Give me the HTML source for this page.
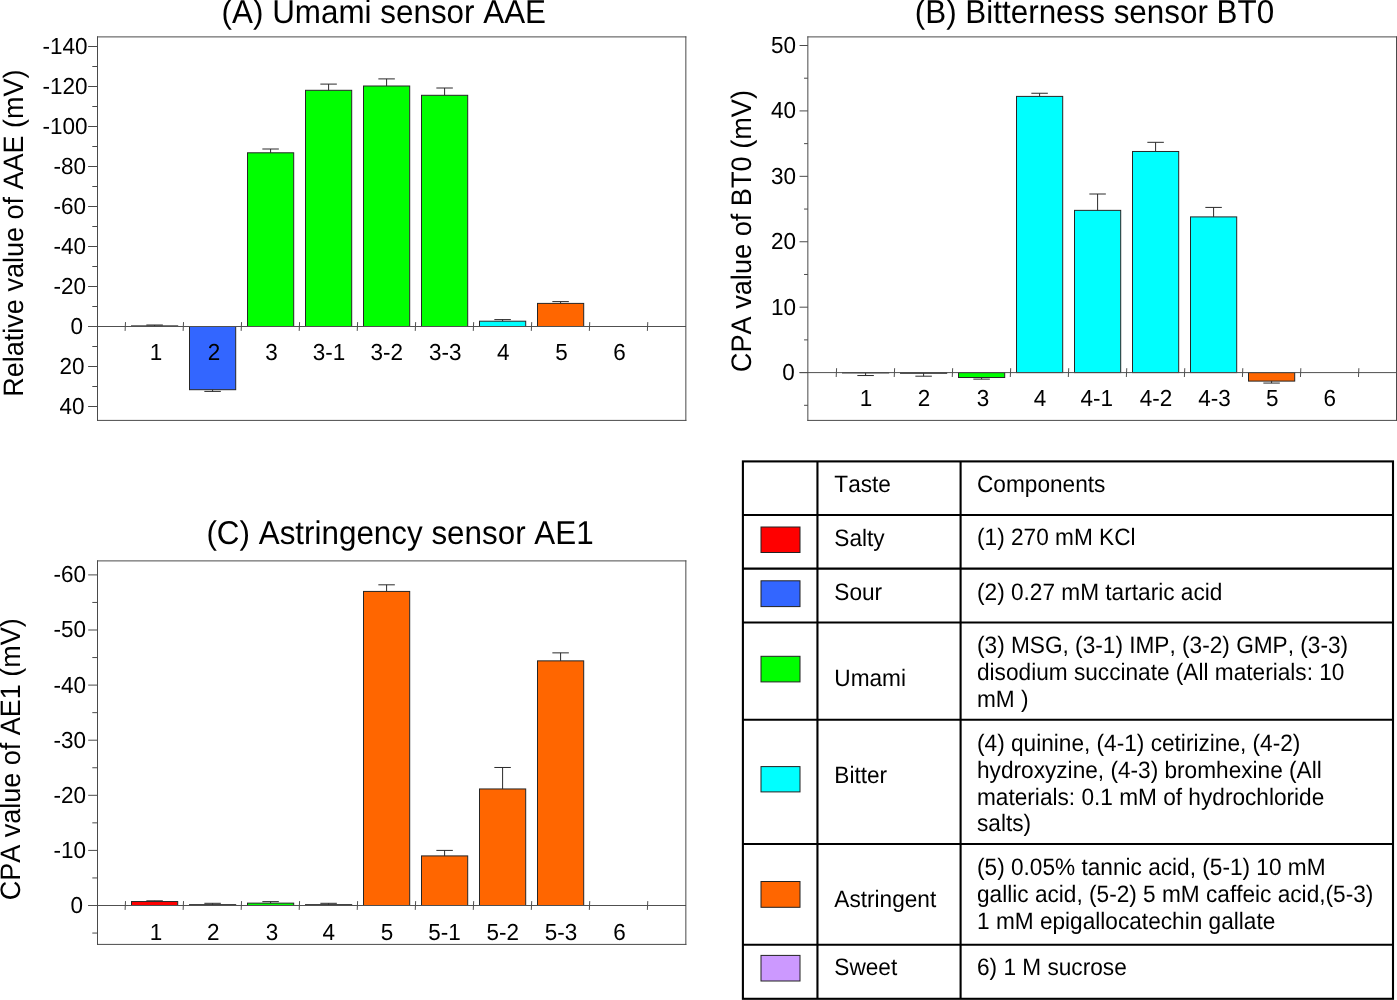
<!DOCTYPE html>
<html><head><meta charset="utf-8"><title>Taste sensor responses</title>
<style>
html,body{margin:0;padding:0;background:#fff;}
body{width:1397px;height:1000px;overflow:hidden;}
svg{display:block;font-family:"Liberation Sans", Arial, Helvetica, sans-serif;font-kerning:none;text-rendering:geometricPrecision;}
</style></head><body>
<svg width="1397" height="1000" viewBox="0 0 1397 1000">
<rect width="1397" height="1000" fill="#fff"/>
<line x1="92.30" y1="66.50" x2="97.5" y2="66.50" stroke="#4a4a4a" stroke-width="1"/>
<line x1="92.30" y1="106.50" x2="97.5" y2="106.50" stroke="#4a4a4a" stroke-width="1"/>
<line x1="92.30" y1="146.50" x2="97.5" y2="146.50" stroke="#4a4a4a" stroke-width="1"/>
<line x1="92.30" y1="186.50" x2="97.5" y2="186.50" stroke="#4a4a4a" stroke-width="1"/>
<line x1="92.30" y1="226.50" x2="97.5" y2="226.50" stroke="#4a4a4a" stroke-width="1"/>
<line x1="92.30" y1="266.50" x2="97.5" y2="266.50" stroke="#4a4a4a" stroke-width="1"/>
<line x1="92.30" y1="306.50" x2="97.5" y2="306.50" stroke="#4a4a4a" stroke-width="1"/>
<line x1="92.30" y1="346.50" x2="97.5" y2="346.50" stroke="#4a4a4a" stroke-width="1"/>
<line x1="92.30" y1="386.50" x2="97.5" y2="386.50" stroke="#4a4a4a" stroke-width="1"/>
<line x1="88.10" y1="46.50" x2="97.5" y2="46.50" stroke="#4a4a4a" stroke-width="1"/>
<text transform="translate(87.63,53.90) scale(1,1.03)" text-anchor="end" font-size="22.5">-140</text>
<line x1="88.10" y1="86.50" x2="97.5" y2="86.50" stroke="#4a4a4a" stroke-width="1"/>
<text transform="translate(87.63,93.90) scale(1,1.03)" text-anchor="end" font-size="22.5">-120</text>
<line x1="88.10" y1="126.50" x2="97.5" y2="126.50" stroke="#4a4a4a" stroke-width="1"/>
<text transform="translate(87.63,133.90) scale(1,1.03)" text-anchor="end" font-size="22.5">-100</text>
<line x1="88.10" y1="166.50" x2="97.5" y2="166.50" stroke="#4a4a4a" stroke-width="1"/>
<text transform="translate(86.08,173.90) scale(1,1.03)" text-anchor="end" font-size="22.5">-80</text>
<line x1="88.10" y1="206.50" x2="97.5" y2="206.50" stroke="#4a4a4a" stroke-width="1"/>
<text transform="translate(86.08,213.90) scale(1,1.03)" text-anchor="end" font-size="22.5">-60</text>
<line x1="88.10" y1="246.50" x2="97.5" y2="246.50" stroke="#4a4a4a" stroke-width="1"/>
<text transform="translate(86.08,253.90) scale(1,1.03)" text-anchor="end" font-size="22.5">-40</text>
<line x1="88.10" y1="286.50" x2="97.5" y2="286.50" stroke="#4a4a4a" stroke-width="1"/>
<text transform="translate(86.08,293.90) scale(1,1.03)" text-anchor="end" font-size="22.5">-20</text>
<line x1="88.10" y1="326.50" x2="97.5" y2="326.50" stroke="#4a4a4a" stroke-width="1"/>
<text transform="translate(82.98,333.90) scale(1,1.03)" text-anchor="end" font-size="22.5">0</text>
<line x1="88.10" y1="366.50" x2="97.5" y2="366.50" stroke="#4a4a4a" stroke-width="1"/>
<text transform="translate(84.53,373.90) scale(1,1.03)" text-anchor="end" font-size="22.5">20</text>
<line x1="88.10" y1="406.50" x2="97.5" y2="406.50" stroke="#4a4a4a" stroke-width="1"/>
<text transform="translate(84.53,413.90) scale(1,1.03)" text-anchor="end" font-size="22.5">40</text>
<rect x="131.50" y="325.90" width="46.20" height="0.60" fill="#9a9a9a" stroke="#262626" stroke-width="1"/>
<line x1="154.60" y1="325.90" x2="154.60" y2="325.00" stroke="#2a2a2a" stroke-width="1"/>
<line x1="146.35" y1="325.00" x2="162.85" y2="325.00" stroke="#2a2a2a" stroke-width="1"/>
<text transform="translate(156.00,359.90) scale(1,1.03)" text-anchor="middle" font-size="22.5">1</text>
<rect x="189.50" y="326.50" width="46.20" height="63.20" fill="#3366ff" stroke="#262626" stroke-width="1"/>
<line x1="212.60" y1="389.70" x2="212.60" y2="391.40" stroke="#2a2a2a" stroke-width="1"/>
<line x1="204.35" y1="391.40" x2="220.85" y2="391.40" stroke="#2a2a2a" stroke-width="1"/>
<text transform="translate(213.90,359.90) scale(1,1.03)" text-anchor="middle" font-size="22.5">2</text>
<rect x="247.50" y="152.80" width="46.20" height="173.70" fill="#00ff00" stroke="#262626" stroke-width="1"/>
<line x1="270.60" y1="152.80" x2="270.60" y2="149.00" stroke="#2a2a2a" stroke-width="1"/>
<line x1="262.35" y1="149.00" x2="278.85" y2="149.00" stroke="#2a2a2a" stroke-width="1"/>
<text transform="translate(271.60,359.90) scale(1,1.03)" text-anchor="middle" font-size="22.5">3</text>
<rect x="305.50" y="90.30" width="46.20" height="236.20" fill="#00ff00" stroke="#262626" stroke-width="1"/>
<line x1="328.60" y1="90.30" x2="328.60" y2="84.10" stroke="#2a2a2a" stroke-width="1"/>
<line x1="320.35" y1="84.10" x2="336.85" y2="84.10" stroke="#2a2a2a" stroke-width="1"/>
<text transform="translate(328.90,359.90) scale(1,1.03)" text-anchor="middle" font-size="22.5">3-1</text>
<rect x="363.50" y="86.00" width="46.20" height="240.50" fill="#00ff00" stroke="#262626" stroke-width="1"/>
<line x1="386.60" y1="86.00" x2="386.60" y2="78.90" stroke="#2a2a2a" stroke-width="1"/>
<line x1="378.35" y1="78.90" x2="394.85" y2="78.90" stroke="#2a2a2a" stroke-width="1"/>
<text transform="translate(386.80,359.90) scale(1,1.03)" text-anchor="middle" font-size="22.5">3-2</text>
<rect x="421.50" y="95.30" width="46.20" height="231.20" fill="#00ff00" stroke="#262626" stroke-width="1"/>
<line x1="444.60" y1="95.30" x2="444.60" y2="88.00" stroke="#2a2a2a" stroke-width="1"/>
<line x1="436.35" y1="88.00" x2="452.85" y2="88.00" stroke="#2a2a2a" stroke-width="1"/>
<text transform="translate(445.30,359.90) scale(1,1.03)" text-anchor="middle" font-size="22.5">3-3</text>
<rect x="479.50" y="321.20" width="46.20" height="5.30" fill="#00ffff" stroke="#262626" stroke-width="1"/>
<line x1="502.60" y1="321.20" x2="502.60" y2="319.60" stroke="#2a2a2a" stroke-width="1"/>
<line x1="494.35" y1="319.60" x2="510.85" y2="319.60" stroke="#2a2a2a" stroke-width="1"/>
<text transform="translate(503.30,359.90) scale(1,1.03)" text-anchor="middle" font-size="22.5">4</text>
<rect x="537.50" y="303.40" width="46.20" height="23.10" fill="#ff6600" stroke="#262626" stroke-width="1"/>
<line x1="560.60" y1="303.40" x2="560.60" y2="301.60" stroke="#2a2a2a" stroke-width="1"/>
<line x1="552.35" y1="301.60" x2="568.85" y2="301.60" stroke="#2a2a2a" stroke-width="1"/>
<text transform="translate(561.40,359.90) scale(1,1.03)" text-anchor="middle" font-size="22.5">5</text>
<text transform="translate(619.60,359.90) scale(1,1.03)" text-anchor="middle" font-size="22.5">6</text>
<line x1="88.10" y1="326.5" x2="686" y2="326.5" stroke="#505050" stroke-width="1"/>
<line x1="125.10" y1="330.9" x2="125.50" y2="322.1" stroke="#505050" stroke-width="1"/>
<line x1="183.13" y1="330.9" x2="183.53" y2="322.1" stroke="#505050" stroke-width="1"/>
<line x1="241.16" y1="330.9" x2="241.56" y2="322.1" stroke="#505050" stroke-width="1"/>
<line x1="299.19" y1="330.9" x2="299.59" y2="322.1" stroke="#505050" stroke-width="1"/>
<line x1="357.22" y1="330.9" x2="357.62" y2="322.1" stroke="#505050" stroke-width="1"/>
<line x1="415.25" y1="330.9" x2="415.65" y2="322.1" stroke="#505050" stroke-width="1"/>
<line x1="473.28" y1="330.9" x2="473.68" y2="322.1" stroke="#505050" stroke-width="1"/>
<line x1="531.31" y1="330.9" x2="531.71" y2="322.1" stroke="#505050" stroke-width="1"/>
<line x1="589.34" y1="330.9" x2="589.74" y2="322.1" stroke="#505050" stroke-width="1"/>
<line x1="647.37" y1="330.9" x2="647.77" y2="322.1" stroke="#505050" stroke-width="1"/>
<path d="M97.5,36.9H685.85M97.5,420.4H685.85M97.5,36.9V420.4M685.85,36.9V420.4" fill="none" stroke="#4a4a4a" stroke-width="1" stroke-linecap="square"/>
<text transform="translate(221.60,23.00) scale(1,1.05)" font-size="31.4">(A) Umami sensor AAE</text>
<text transform="translate(22.50,233.10) rotate(-90) scale(1,1.04)" text-anchor="middle" font-size="27">Relative value of AAE (mV)</text>
<line x1="804.05" y1="405.31" x2="807.85" y2="405.31" stroke="#4a4a4a" stroke-width="1"/>
<line x1="804.05" y1="339.89" x2="807.85" y2="339.89" stroke="#4a4a4a" stroke-width="1"/>
<line x1="804.05" y1="274.47" x2="807.85" y2="274.47" stroke="#4a4a4a" stroke-width="1"/>
<line x1="804.05" y1="209.05" x2="807.85" y2="209.05" stroke="#4a4a4a" stroke-width="1"/>
<line x1="804.05" y1="143.63" x2="807.85" y2="143.63" stroke="#4a4a4a" stroke-width="1"/>
<line x1="804.05" y1="78.21" x2="807.85" y2="78.21" stroke="#4a4a4a" stroke-width="1"/>
<line x1="799.55" y1="372.60" x2="807.85" y2="372.60" stroke="#4a4a4a" stroke-width="1"/>
<text transform="translate(794.78,380.00) scale(1,1.03)" text-anchor="end" font-size="22.5">0</text>
<line x1="799.55" y1="307.18" x2="807.85" y2="307.18" stroke="#4a4a4a" stroke-width="1"/>
<text transform="translate(796.08,314.58) scale(1,1.03)" text-anchor="end" font-size="22.5">10</text>
<line x1="799.55" y1="241.76" x2="807.85" y2="241.76" stroke="#4a4a4a" stroke-width="1"/>
<text transform="translate(796.08,249.16) scale(1,1.03)" text-anchor="end" font-size="22.5">20</text>
<line x1="799.55" y1="176.34" x2="807.85" y2="176.34" stroke="#4a4a4a" stroke-width="1"/>
<text transform="translate(796.08,183.74) scale(1,1.03)" text-anchor="end" font-size="22.5">30</text>
<line x1="799.55" y1="110.92" x2="807.85" y2="110.92" stroke="#4a4a4a" stroke-width="1"/>
<text transform="translate(796.08,118.32) scale(1,1.03)" text-anchor="end" font-size="22.5">40</text>
<line x1="799.55" y1="45.50" x2="807.85" y2="45.50" stroke="#4a4a4a" stroke-width="1"/>
<text transform="translate(796.08,52.90) scale(1,1.03)" text-anchor="end" font-size="22.5">50</text>
<rect x="842.50" y="372.60" width="46.20" height="0.33" fill="#9a9a9a" stroke="#262626" stroke-width="1"/>
<line x1="865.60" y1="372.93" x2="865.60" y2="375.54" stroke="#2a2a2a" stroke-width="1"/>
<line x1="857.35" y1="375.54" x2="873.85" y2="375.54" stroke="#2a2a2a" stroke-width="1"/>
<text transform="translate(866.05,406.40) scale(1,1.03)" text-anchor="middle" font-size="22.5">1</text>
<rect x="900.50" y="372.60" width="46.20" height="0.65" fill="#9a9a9a" stroke="#262626" stroke-width="1"/>
<line x1="923.60" y1="373.25" x2="923.60" y2="376.20" stroke="#2a2a2a" stroke-width="1"/>
<line x1="915.35" y1="376.20" x2="931.85" y2="376.20" stroke="#2a2a2a" stroke-width="1"/>
<text transform="translate(924.10,406.40) scale(1,1.03)" text-anchor="middle" font-size="22.5">2</text>
<rect x="958.50" y="372.60" width="46.20" height="4.91" fill="#00ff00" stroke="#262626" stroke-width="1"/>
<line x1="981.60" y1="377.51" x2="981.60" y2="379.14" stroke="#2a2a2a" stroke-width="1"/>
<line x1="973.35" y1="379.14" x2="989.85" y2="379.14" stroke="#2a2a2a" stroke-width="1"/>
<text transform="translate(983.00,406.40) scale(1,1.03)" text-anchor="middle" font-size="22.5">3</text>
<rect x="1016.50" y="96.40" width="46.20" height="276.20" fill="#00ffff" stroke="#262626" stroke-width="1"/>
<line x1="1039.60" y1="96.40" x2="1039.60" y2="93.26" stroke="#2a2a2a" stroke-width="1"/>
<line x1="1031.35" y1="93.26" x2="1047.85" y2="93.26" stroke="#2a2a2a" stroke-width="1"/>
<text transform="translate(1039.90,406.40) scale(1,1.03)" text-anchor="middle" font-size="22.5">4</text>
<rect x="1074.50" y="210.36" width="46.20" height="162.24" fill="#00ffff" stroke="#262626" stroke-width="1"/>
<line x1="1097.60" y1="210.36" x2="1097.60" y2="194.00" stroke="#2a2a2a" stroke-width="1"/>
<line x1="1089.35" y1="194.00" x2="1105.85" y2="194.00" stroke="#2a2a2a" stroke-width="1"/>
<text transform="translate(1096.80,406.40) scale(1,1.03)" text-anchor="middle" font-size="22.5">4-1</text>
<rect x="1132.50" y="151.48" width="46.20" height="221.12" fill="#00ffff" stroke="#262626" stroke-width="1"/>
<line x1="1155.60" y1="151.48" x2="1155.60" y2="142.32" stroke="#2a2a2a" stroke-width="1"/>
<line x1="1147.35" y1="142.32" x2="1163.85" y2="142.32" stroke="#2a2a2a" stroke-width="1"/>
<text transform="translate(1155.90,406.40) scale(1,1.03)" text-anchor="middle" font-size="22.5">4-2</text>
<rect x="1190.50" y="216.90" width="46.20" height="155.70" fill="#00ffff" stroke="#262626" stroke-width="1"/>
<line x1="1213.60" y1="216.90" x2="1213.60" y2="207.41" stroke="#2a2a2a" stroke-width="1"/>
<line x1="1205.35" y1="207.41" x2="1221.85" y2="207.41" stroke="#2a2a2a" stroke-width="1"/>
<text transform="translate(1214.40,406.40) scale(1,1.03)" text-anchor="middle" font-size="22.5">4-3</text>
<rect x="1248.50" y="372.60" width="46.20" height="8.50" fill="#ff6600" stroke="#262626" stroke-width="1"/>
<line x1="1271.60" y1="381.10" x2="1271.60" y2="383.07" stroke="#2a2a2a" stroke-width="1"/>
<line x1="1263.35" y1="383.07" x2="1279.85" y2="383.07" stroke="#2a2a2a" stroke-width="1"/>
<text transform="translate(1272.30,406.40) scale(1,1.03)" text-anchor="middle" font-size="22.5">5</text>
<text transform="translate(1329.80,406.40) scale(1,1.03)" text-anchor="middle" font-size="22.5">6</text>
<line x1="799.55" y1="372.6" x2="1396" y2="372.6" stroke="#505050" stroke-width="1"/>
<line x1="836.20" y1="377.0" x2="836.60" y2="368.20000000000005" stroke="#505050" stroke-width="1"/>
<line x1="894.23" y1="377.0" x2="894.63" y2="368.20000000000005" stroke="#505050" stroke-width="1"/>
<line x1="952.26" y1="377.0" x2="952.66" y2="368.20000000000005" stroke="#505050" stroke-width="1"/>
<line x1="1010.29" y1="377.0" x2="1010.69" y2="368.20000000000005" stroke="#505050" stroke-width="1"/>
<line x1="1068.32" y1="377.0" x2="1068.72" y2="368.20000000000005" stroke="#505050" stroke-width="1"/>
<line x1="1126.35" y1="377.0" x2="1126.75" y2="368.20000000000005" stroke="#505050" stroke-width="1"/>
<line x1="1184.38" y1="377.0" x2="1184.78" y2="368.20000000000005" stroke="#505050" stroke-width="1"/>
<line x1="1242.41" y1="377.0" x2="1242.81" y2="368.20000000000005" stroke="#505050" stroke-width="1"/>
<line x1="1300.44" y1="377.0" x2="1300.84" y2="368.20000000000005" stroke="#505050" stroke-width="1"/>
<line x1="1358.47" y1="377.0" x2="1358.87" y2="368.20000000000005" stroke="#505050" stroke-width="1"/>
<path d="M807.85,36.9H1396.5M807.85,420.4H1396.5M807.85,36.9V420.4M1396.5,36.9V420.4" fill="none" stroke="#4a4a4a" stroke-width="1" stroke-linecap="square"/>
<text transform="translate(914.80,23.00) scale(1,1.05)" font-size="31.4">(B) Bitterness sensor BT0</text>
<text transform="translate(751.10,231.10) rotate(-90) scale(1,1.04)" text-anchor="middle" font-size="27.17">CPA value of BT0 (mV)</text>
<line x1="92.30" y1="602.45" x2="97.5" y2="602.45" stroke="#4a4a4a" stroke-width="1"/>
<line x1="92.30" y1="657.55" x2="97.5" y2="657.55" stroke="#4a4a4a" stroke-width="1"/>
<line x1="92.30" y1="712.65" x2="97.5" y2="712.65" stroke="#4a4a4a" stroke-width="1"/>
<line x1="92.30" y1="767.75" x2="97.5" y2="767.75" stroke="#4a4a4a" stroke-width="1"/>
<line x1="92.30" y1="822.85" x2="97.5" y2="822.85" stroke="#4a4a4a" stroke-width="1"/>
<line x1="92.30" y1="877.95" x2="97.5" y2="877.95" stroke="#4a4a4a" stroke-width="1"/>
<line x1="92.30" y1="933.05" x2="97.5" y2="933.05" stroke="#4a4a4a" stroke-width="1"/>
<line x1="88.20" y1="574.90" x2="97.5" y2="574.90" stroke="#4a4a4a" stroke-width="1"/>
<text transform="translate(86.08,582.30) scale(1,1.03)" text-anchor="end" font-size="22.5">-60</text>
<line x1="88.20" y1="630.00" x2="97.5" y2="630.00" stroke="#4a4a4a" stroke-width="1"/>
<text transform="translate(86.08,637.40) scale(1,1.03)" text-anchor="end" font-size="22.5">-50</text>
<line x1="88.20" y1="685.10" x2="97.5" y2="685.10" stroke="#4a4a4a" stroke-width="1"/>
<text transform="translate(86.08,692.50) scale(1,1.03)" text-anchor="end" font-size="22.5">-40</text>
<line x1="88.20" y1="740.20" x2="97.5" y2="740.20" stroke="#4a4a4a" stroke-width="1"/>
<text transform="translate(86.08,747.60) scale(1,1.03)" text-anchor="end" font-size="22.5">-30</text>
<line x1="88.20" y1="795.30" x2="97.5" y2="795.30" stroke="#4a4a4a" stroke-width="1"/>
<text transform="translate(86.08,802.70) scale(1,1.03)" text-anchor="end" font-size="22.5">-20</text>
<line x1="88.20" y1="850.40" x2="97.5" y2="850.40" stroke="#4a4a4a" stroke-width="1"/>
<text transform="translate(86.08,857.80) scale(1,1.03)" text-anchor="end" font-size="22.5">-10</text>
<line x1="88.20" y1="905.50" x2="97.5" y2="905.50" stroke="#4a4a4a" stroke-width="1"/>
<text transform="translate(82.98,912.90) scale(1,1.03)" text-anchor="end" font-size="22.5">0</text>
<rect x="131.50" y="901.53" width="46.20" height="3.97" fill="#ff0000" stroke="#262626" stroke-width="1"/>
<line x1="154.60" y1="901.53" x2="154.60" y2="900.82" stroke="#2a2a2a" stroke-width="1"/>
<line x1="146.35" y1="900.82" x2="162.85" y2="900.82" stroke="#2a2a2a" stroke-width="1"/>
<text transform="translate(156.00,939.80) scale(1,1.03)" text-anchor="middle" font-size="22.5">1</text>
<rect x="189.50" y="904.67" width="46.20" height="0.83" fill="#9a9a9a" stroke="#262626" stroke-width="1"/>
<line x1="212.60" y1="904.67" x2="212.60" y2="903.30" stroke="#2a2a2a" stroke-width="1"/>
<line x1="204.35" y1="903.30" x2="220.85" y2="903.30" stroke="#2a2a2a" stroke-width="1"/>
<text transform="translate(213.30,939.80) scale(1,1.03)" text-anchor="middle" font-size="22.5">2</text>
<rect x="247.50" y="903.13" width="46.20" height="2.37" fill="#00ff00" stroke="#262626" stroke-width="1"/>
<line x1="270.60" y1="903.13" x2="270.60" y2="901.64" stroke="#2a2a2a" stroke-width="1"/>
<line x1="262.35" y1="901.64" x2="278.85" y2="901.64" stroke="#2a2a2a" stroke-width="1"/>
<text transform="translate(272.00,939.80) scale(1,1.03)" text-anchor="middle" font-size="22.5">3</text>
<rect x="305.50" y="904.67" width="46.20" height="0.83" fill="#9a9a9a" stroke="#262626" stroke-width="1"/>
<line x1="328.60" y1="904.67" x2="328.60" y2="903.30" stroke="#2a2a2a" stroke-width="1"/>
<line x1="320.35" y1="903.30" x2="336.85" y2="903.30" stroke="#2a2a2a" stroke-width="1"/>
<text transform="translate(328.70,939.80) scale(1,1.03)" text-anchor="middle" font-size="22.5">4</text>
<rect x="363.50" y="591.43" width="46.20" height="314.07" fill="#ff6600" stroke="#262626" stroke-width="1"/>
<line x1="386.60" y1="591.43" x2="386.60" y2="584.82" stroke="#2a2a2a" stroke-width="1"/>
<line x1="378.35" y1="584.82" x2="394.85" y2="584.82" stroke="#2a2a2a" stroke-width="1"/>
<text transform="translate(387.00,939.80) scale(1,1.03)" text-anchor="middle" font-size="22.5">5</text>
<rect x="421.50" y="855.91" width="46.20" height="49.59" fill="#ff6600" stroke="#262626" stroke-width="1"/>
<line x1="444.60" y1="855.91" x2="444.60" y2="850.40" stroke="#2a2a2a" stroke-width="1"/>
<line x1="436.35" y1="850.40" x2="452.85" y2="850.40" stroke="#2a2a2a" stroke-width="1"/>
<text transform="translate(444.50,939.80) scale(1,1.03)" text-anchor="middle" font-size="22.5">5-1</text>
<rect x="479.50" y="788.96" width="46.20" height="116.54" fill="#ff6600" stroke="#262626" stroke-width="1"/>
<line x1="502.60" y1="788.96" x2="502.60" y2="767.47" stroke="#2a2a2a" stroke-width="1"/>
<line x1="494.35" y1="767.47" x2="510.85" y2="767.47" stroke="#2a2a2a" stroke-width="1"/>
<text transform="translate(502.80,939.80) scale(1,1.03)" text-anchor="middle" font-size="22.5">5-2</text>
<rect x="537.50" y="660.86" width="46.20" height="244.64" fill="#ff6600" stroke="#262626" stroke-width="1"/>
<line x1="560.60" y1="660.86" x2="560.60" y2="652.87" stroke="#2a2a2a" stroke-width="1"/>
<line x1="552.35" y1="652.87" x2="568.85" y2="652.87" stroke="#2a2a2a" stroke-width="1"/>
<text transform="translate(561.00,939.80) scale(1,1.03)" text-anchor="middle" font-size="22.5">5-3</text>
<text transform="translate(619.60,939.80) scale(1,1.03)" text-anchor="middle" font-size="22.5">6</text>
<line x1="88.20" y1="905.5" x2="686" y2="905.5" stroke="#505050" stroke-width="1"/>
<line x1="125.10" y1="909.9" x2="125.50" y2="901.1" stroke="#505050" stroke-width="1"/>
<line x1="183.13" y1="909.9" x2="183.53" y2="901.1" stroke="#505050" stroke-width="1"/>
<line x1="241.16" y1="909.9" x2="241.56" y2="901.1" stroke="#505050" stroke-width="1"/>
<line x1="299.19" y1="909.9" x2="299.59" y2="901.1" stroke="#505050" stroke-width="1"/>
<line x1="357.22" y1="909.9" x2="357.62" y2="901.1" stroke="#505050" stroke-width="1"/>
<line x1="415.25" y1="909.9" x2="415.65" y2="901.1" stroke="#505050" stroke-width="1"/>
<line x1="473.28" y1="909.9" x2="473.68" y2="901.1" stroke="#505050" stroke-width="1"/>
<line x1="531.31" y1="909.9" x2="531.71" y2="901.1" stroke="#505050" stroke-width="1"/>
<line x1="589.34" y1="909.9" x2="589.74" y2="901.1" stroke="#505050" stroke-width="1"/>
<line x1="647.37" y1="909.9" x2="647.77" y2="901.1" stroke="#505050" stroke-width="1"/>
<path d="M97.5,560.9H685.85M97.5,944.4H685.85M97.5,560.9V944.4M685.85,560.9V944.4" fill="none" stroke="#4a4a4a" stroke-width="1" stroke-linecap="square"/>
<text transform="translate(206.40,544.00) scale(1,1.05)" font-size="31.4">(C) Astringency sensor AE1</text>
<text transform="translate(19.80,759.30) rotate(-90) scale(1,1.04)" text-anchor="middle" font-size="27">CPA value of AE1 (mV)</text>
<rect x="742.9" y="461.4" width="650.1" height="537.4" fill="none" stroke="#000" stroke-width="2.1"/>
<line x1="817.45" y1="461.4" x2="817.45" y2="998.75" stroke="#000" stroke-width="2.1"/>
<line x1="960.6" y1="461.4" x2="960.6" y2="998.75" stroke="#000" stroke-width="2.1"/>
<line x1="742.9" y1="514.95" x2="1393.05" y2="514.95" stroke="#000" stroke-width="2.1"/>
<line x1="742.9" y1="568.6" x2="1393.05" y2="568.6" stroke="#000" stroke-width="2.1"/>
<line x1="742.9" y1="622.45" x2="1393.05" y2="622.45" stroke="#000" stroke-width="2.1"/>
<line x1="742.9" y1="719.75" x2="1393.05" y2="719.75" stroke="#000" stroke-width="2.1"/>
<line x1="742.9" y1="844.05" x2="1393.05" y2="844.05" stroke="#000" stroke-width="2.1"/>
<line x1="742.9" y1="944.8" x2="1393.05" y2="944.8" stroke="#000" stroke-width="2.1"/>
<rect x="761" y="527" width="39" height="25.5" fill="#ff0000" stroke="#222" stroke-width="1"/>
<rect x="761" y="580.8" width="39" height="25.8" fill="#3366ff" stroke="#222" stroke-width="1"/>
<rect x="761" y="656.3" width="39" height="25.6" fill="#00ff00" stroke="#222" stroke-width="1"/>
<rect x="761" y="766.6" width="39" height="25.3" fill="#00ffff" stroke="#222" stroke-width="1"/>
<rect x="761" y="881.5" width="39" height="25.8" fill="#ff6600" stroke="#222" stroke-width="1"/>
<rect x="761" y="955.4" width="39" height="25.6" fill="#cc99ff" stroke="#222" stroke-width="1"/>
<text transform="translate(834.30,492.10) scale(1,1.05)" font-size="22.65">Taste</text>
<text transform="translate(834.30,545.50) scale(1,1.05)" font-size="22.65">Salty</text>
<text transform="translate(834.30,599.90) scale(1,1.05)" font-size="22.65">Sour</text>
<text transform="translate(834.30,686.00) scale(1,1.05)" font-size="22.65">Umami</text>
<text transform="translate(834.30,783.20) scale(1,1.05)" font-size="22.65">Bitter</text>
<text transform="translate(834.30,906.80) scale(1,1.05)" font-size="22.65">Astringent</text>
<text transform="translate(834.30,974.50) scale(1,1.05)" font-size="22.65">Sweet</text>
<text transform="translate(977.00,492.10) scale(1,1.05)" font-size="22.65">Components</text>
<text transform="translate(977.00,545.20) scale(1,1.05)" font-size="22.65">(1) 270 mM KCl</text>
<text transform="translate(977.00,599.60) scale(1,1.05)" font-size="22.65">(2) 0.27 mM tartaric acid</text>
<text transform="translate(977.00,653.00) scale(1,1.05)" font-size="22.65">(3) MSG, (3-1) IMP, (3-2) GMP, (3-3)</text>
<text transform="translate(977.00,680.10) scale(1,1.05)" font-size="22.65">disodium succinate (All materials: 10</text>
<text transform="translate(977.00,706.70) scale(1,1.05)" font-size="22.65">mM )</text>
<text transform="translate(977.00,751.10) scale(1,1.05)" font-size="22.65">(4) quinine, (4-1) cetirizine, (4-2)</text>
<text transform="translate(977.00,778.20) scale(1,1.05)" font-size="22.65">hydroxyzine, (4-3) bromhexine (All</text>
<text transform="translate(977.00,804.50) scale(1,1.05)" font-size="22.65">materials: 0.1 mM of hydrochloride</text>
<text transform="translate(977.00,830.60) scale(1,1.05)" font-size="22.65">salts)</text>
<text transform="translate(977.00,874.60) scale(1,1.05)" font-size="22.65">(5) 0.05% tannic acid, (5-1) 10 mM</text>
<text transform="translate(977.00,901.70) scale(1,1.05)" font-size="22.65">gallic acid, (5-2) 5 mM caffeic acid,(5-3)</text>
<text transform="translate(977.00,928.60) scale(1,1.05)" font-size="22.65">1 mM epigallocatechin gallate</text>
<text transform="translate(977.00,974.70) scale(1,1.05)" font-size="22.65">6) 1 M sucrose</text>
</svg>
</body></html>
